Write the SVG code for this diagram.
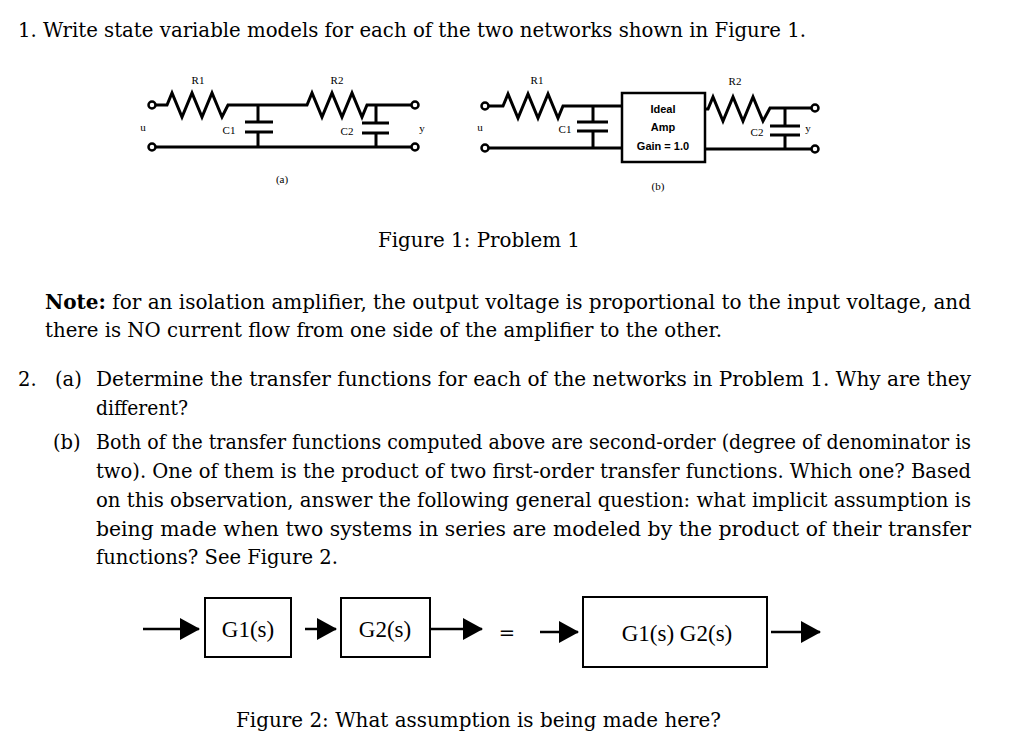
<svg xmlns="http://www.w3.org/2000/svg" width="1024" height="752" viewBox="0 0 1024 752">
<style>
.t{font-family:"DejaVu Serif","Liberation Serif",serif;font-size:19.5px;fill:#000}
.s{font-family:"Liberation Serif",serif;font-size:11px;fill:#000}
.b{font-family:"Liberation Sans",sans-serif;font-size:11px;font-weight:bold;fill:#000}
.w{stroke:#000;stroke-width:3;fill:none}
.term{fill:#fff;stroke:#000;stroke-width:2.5}
.box{fill:#fff;stroke:#000;stroke-width:2}
.bx{font-family:"Liberation Serif",serif;font-size:23px;fill:#000}
</style>
<defs>
<marker id="ah" markerWidth="20" markerHeight="22" refX="19" refY="11" orient="auto" markerUnits="userSpaceOnUse"><path d="M0,0 L20,11 L0,22 Z" fill="#000"/></marker>
</defs>
<rect width="1024" height="752" fill="#fff"/>
<text class="t" x="18" y="37" textLength="788" lengthAdjust="spacingAndGlyphs">1. Write state variable models for each of the two networks shown in Figure 1.</text>

<g id="circuit-a">
<path class="w" d="M152,105 H167 L172,93 L182,117 L192,93 L202,117 L212,93 L222,117 L228,105 H307 L312,93 L322,117 L332,93 L342,117 L352,93 L362,117 L367,105 H415"/>
<path class="w" d="M152,147 H415"/>
<path class="w" d="M258,105 V122 M245,122 H273 M245,132 H273 M258,132 V147"/>
<path class="w" d="M376,105 V123 M362,123 H389 M362,133 H389 M376,133 V147"/>
<circle class="term" cx="152" cy="105" r="3.5"/><circle class="term" cx="152" cy="147" r="3.5"/>
<circle class="term" cx="415" cy="105" r="3.5"/><circle class="term" cx="415" cy="147" r="3.5"/>
<text class="s" x="198" y="84" text-anchor="middle">R1</text>
<text class="s" x="337" y="84" text-anchor="middle">R2</text>
<text class="s" x="143" y="131" text-anchor="middle">u</text>
<text class="s" x="229" y="134" text-anchor="middle">C1</text>
<text class="s" x="347" y="135" text-anchor="middle">C2</text>
<text class="s" x="422" y="132" text-anchor="middle">y</text>
<text class="s" x="282" y="183" text-anchor="middle">(a)</text>
</g>

<g id="circuit-b">
<path class="w" d="M485,106 H503 L508,94 L518,118 L528,94 L538,118 L548,94 L558,118 L563,106 H622"/>
<path class="w" d="M485,148 H622"/>
<path class="w" d="M593,106 V122 M577,122 H608 M577,131 H608 M593,131 V148"/>
<rect x="622" y="93" width="83" height="69" fill="#fff" stroke="#000" stroke-width="2.5"/>
<text class="b" x="663" y="113" text-anchor="middle">Ideal</text>
<text class="b" x="663" y="131" text-anchor="middle">Amp</text>
<text class="b" x="663" y="150" text-anchor="middle">Gain = 1.0</text>
<path class="w" d="M705,109 H708 L713,97 L723,121 L733,97 L743,121 L753,97 L763,121 L770,108 H815"/>
<path class="w" d="M705,149 H815"/>
<path class="w" d="M785,108 V126 M770,126 H800 M770,135 H800 M785,135 V149"/>
<circle class="term" cx="485" cy="106" r="3.5"/><circle class="term" cx="485" cy="148" r="3.5"/>
<circle class="term" cx="815" cy="108" r="3.5"/><circle class="term" cx="815" cy="149" r="3.5"/>
<text class="s" x="537" y="84" text-anchor="middle">R1</text>
<text class="s" x="735" y="85" text-anchor="middle">R2</text>
<text class="s" x="480" y="131" text-anchor="middle">u</text>
<text class="s" x="565" y="133" text-anchor="middle">C1</text>
<text class="s" x="757" y="136" text-anchor="middle">C2</text>
<text class="s" x="808" y="132" text-anchor="middle">y</text>
<text class="s" x="658" y="190" text-anchor="middle">(b)</text>
</g>

<text class="t" x="378" y="247" textLength="202" lengthAdjust="spacingAndGlyphs">Figure 1: Problem 1</text>
<text class="t" x="45" y="309" textLength="926" lengthAdjust="spacingAndGlyphs"><tspan font-weight="bold">Note:</tspan> for an isolation amplifier, the output voltage is proportional to the input voltage, and</text>
<text class="t" x="45" y="337" textLength="677" lengthAdjust="spacingAndGlyphs">there is NO current flow from one side of the amplifier to the other.</text>
<text class="t" x="18" y="386">2.</text>
<text class="t" x="55" y="386">(a)</text>
<text class="t" x="96" y="386" textLength="875" lengthAdjust="spacingAndGlyphs">Determine the transfer functions for each of the networks in Problem 1. Why are they</text>
<text class="t" x="96" y="415" textLength="92" lengthAdjust="spacingAndGlyphs">different?</text>
<text class="t" x="53" y="449">(b)</text>
<text class="t" x="96" y="449" textLength="875" lengthAdjust="spacingAndGlyphs">Both of the transfer functions computed above are second-order (degree of denominator is</text>
<text class="t" x="96" y="478" textLength="875" lengthAdjust="spacingAndGlyphs">two). One of them is the product of two first-order transfer functions. Which one? Based</text>
<text class="t" x="96" y="507" textLength="875" lengthAdjust="spacingAndGlyphs">on this observation, answer the following general question: what implicit assumption is</text>
<text class="t" x="96" y="536" textLength="875" lengthAdjust="spacingAndGlyphs">being made when two systems in series are modeled by the product of their transfer</text>
<text class="t" x="96" y="564" textLength="242" lengthAdjust="spacingAndGlyphs">functions? See Figure 2.</text>

<g id="G1"><rect class="box" x="205" y="598" width="86" height="59"/><text class="bx" x="248" y="637" text-anchor="middle">G1(s)</text></g>
<g id="G2"><rect class="box" x="341" y="598" width="89" height="59"/><text class="bx" x="385" y="637" text-anchor="middle">G2(s)</text></g>
<g id="G12"><rect class="box" x="583" y="597" width="184" height="70"/><text class="bx" x="677" y="641" text-anchor="middle">G1(s) G2(s)</text></g>
<g id="connectors" stroke="#000" stroke-width="2.5" fill="none">
<line x1="143" y1="629" x2="199" y2="629" marker-end="url(#ah)"/>
<line x1="305" y1="629" x2="336" y2="629" marker-end="url(#ah)"/>
<line x1="431" y1="629" x2="482" y2="629" marker-end="url(#ah)"/>
<line x1="540" y1="632" x2="578" y2="632" marker-end="url(#ah)"/>
<line x1="771" y1="632" x2="820" y2="632" marker-end="url(#ah)"/>
</g>
<text class="t" x="507" y="640" text-anchor="middle">=</text>
<text class="t" x="236" y="727" textLength="485" lengthAdjust="spacingAndGlyphs">Figure 2: What assumption is being made here?</text>
</svg>
